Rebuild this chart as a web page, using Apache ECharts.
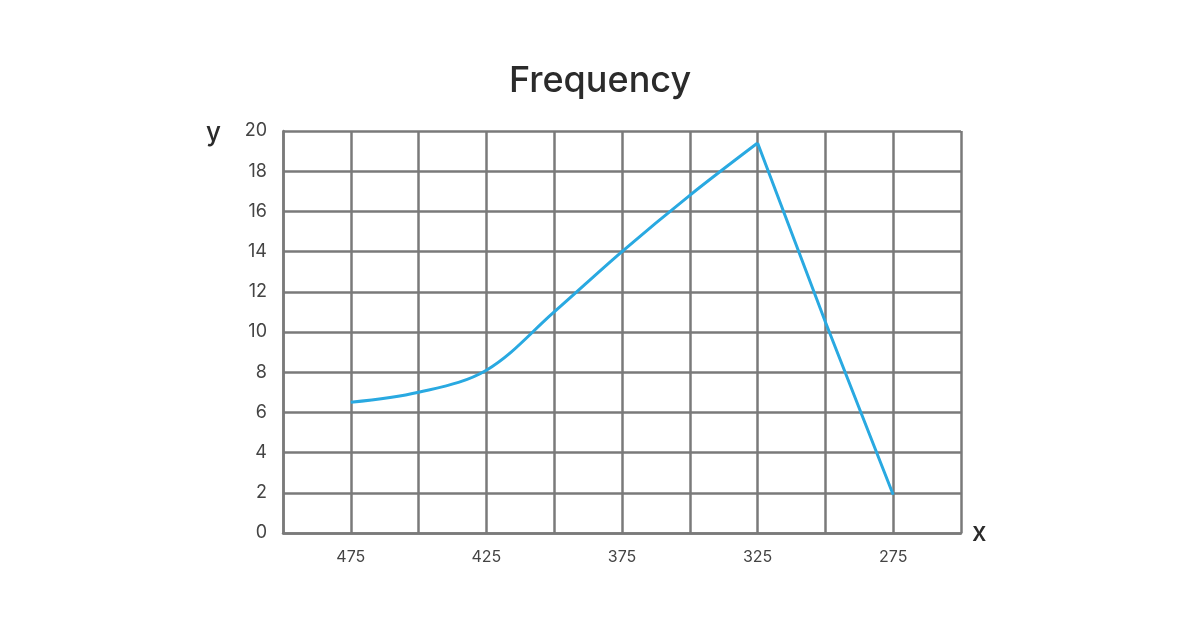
<!DOCTYPE html>
<html><head><meta charset="utf-8">
<script src="https://cdn.jsdelivr.net/npm/echarts@6/dist/echarts.min.js"></script>
<style>html,body{margin:0;padding:0;background:#fff}#c{width:1200px;height:628px}</style>
</head><body><div id="c"></div>
<script>
const curveX = [475, 450, 425, 400, 375, 350, 325];
const curveY = [6.5, 7.0, 8.1, 11.0, 14.0, 16.8, 19.4];
const lineX = [325, 300, 275];
const lineY = [19.4, 10.5, 1.9];
const xLabels = [475, 425, 375, 325, 275];

const chart = echarts.init(document.getElementById('c'));
const gridColor = '#7a7a7a';
chart.setOption({
  animation: false,
  title: { text: 'Frequency', left: 'center', top: 58,
    textStyle: { fontFamily: 'Inter', fontSize: 36, fontWeight: 500, color: '#2b2b2b' } },
  grid: { left: 283, right: 239, top: 131, bottom: 95 },
  graphic: [
    { type: 'text', left: 206, top: 120, style: { text: 'y', fontFamily: 'Inter', fontSize: 26, fontWeight: 500, fill: '#2b2b2b' } },
    { type: 'text', left: 972, top: 520, style: { text: 'x', fontFamily: 'Inter', fontSize: 26, fontWeight: 500, fill: '#2b2b2b' } }
  ],
  xAxis: {
    type: 'value', inverse: true, min: 250, max: 500, interval: 25,
    axisLine: { show: true, lineStyle: { color: gridColor, width: 2.5 } },
    axisTick: { show: false },
    axisLabel: { margin: 16, fontFamily: 'Inter', fontSize: 16, color: '#444',
      formatter: v => xLabels.includes(v) ? String(v) : '' },
    splitLine: { show: true, lineStyle: { color: gridColor, width: 2.5 } }
  },
  yAxis: {
    type: 'value', min: 0, max: 20, interval: 2,
    axisLine: { show: true, lineStyle: { color: gridColor, width: 2.5 } },
    axisTick: { show: false },
    axisLabel: { margin: 16, fontFamily: 'Inter', fontSize: 18, color: '#444' },
    splitLine: { show: true, lineStyle: { color: gridColor, width: 2.5 } }
  },
  series: [
    { type: 'line', smooth: 0.35, showSymbol: false,
      data: curveX.map((x, i) => [x, curveY[i]]),
      lineStyle: { color: '#29a9e1', width: 3 } },
    { type: 'line', smooth: false, showSymbol: false,
      data: lineX.map((x, i) => [x, lineY[i]]),
      lineStyle: { color: '#29a9e1', width: 3 } }
  ]
});
</script></body></html>
